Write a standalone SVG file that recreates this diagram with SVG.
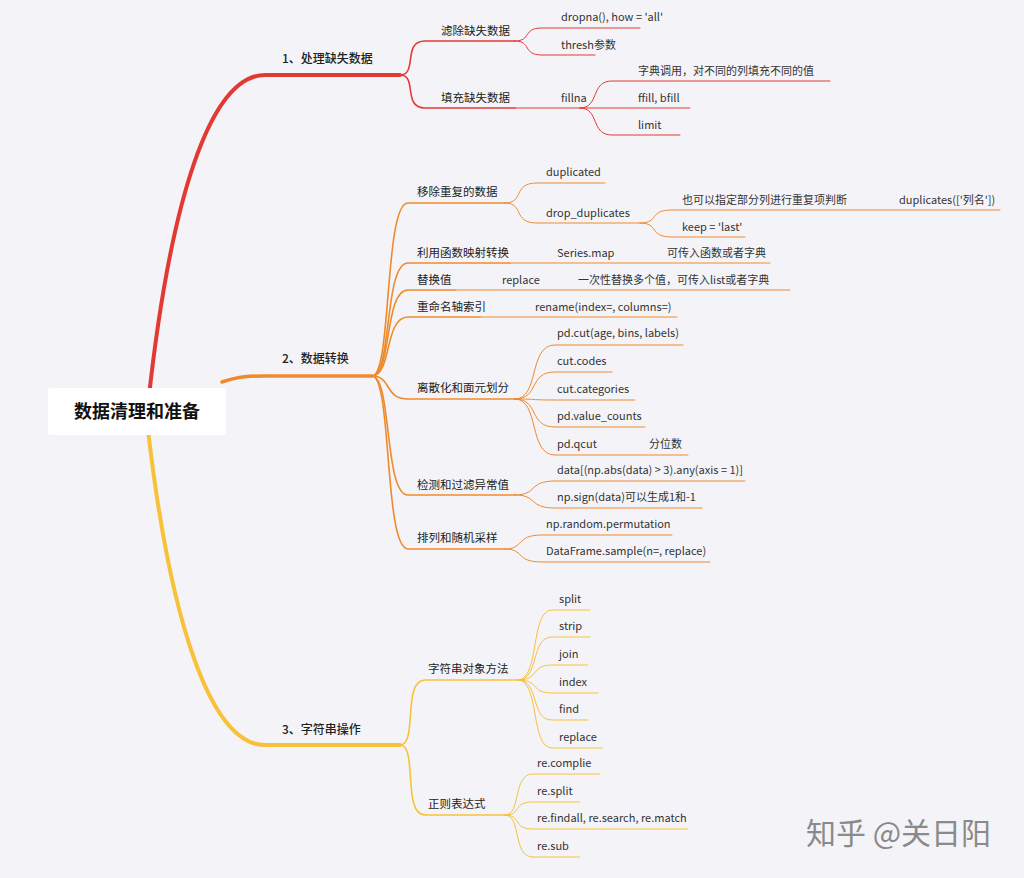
<svg xmlns="http://www.w3.org/2000/svg" width="1024" height="878" viewBox="0 0 1024 878">
<style>
text{font-family:"Noto Sans CJK SC","Noto Sans",sans-serif;font-size:11px;fill:#333}
.m{font-size:12px;font-weight:500;fill:#222}
.s{font-size:11.5px;fill:#222}
path{fill:none;stroke-linecap:round}
.r{stroke:#e23a33}.o{stroke:#ef8a2c}.y{stroke:#f7c13a}
.l1{stroke-width:1}.l2{stroke-width:1.6}
</style>
<rect width="1024" height="878" fill="#f4f4f8"/>
<g id="connectors">
<path class="r" stroke-width="4" d="M148 405 C170 200 210 75 265 75 H400"/>
<path class="o" stroke-width="3.5" d="M222 382 C240 376 250 376 265 376 H372"/>
<path class="y" stroke-width="4" d="M148 430 C170 620 210 745 265 745 H400"/>
<g class="r l2">
<path d="M400 75 C418 75 402 41 425 41 H515"/>
<path d="M400 75 C418 75 402 108 425 108 H515"/>
</g>
<g class="r l1">
<path d="M515 41 C532 41 522 28 542 28 H640"/>
<path d="M515 41 C532 41 522 55 542 55 H595"/>
<path d="M515 108 H580"/>
<path d="M580 108 C600 108 590 81 612 81 H830"/>
<path d="M580 108 H690"/>
<path d="M580 108 C600 108 590 135 612 135 H680"/>
</g>
<g class="o l2">
<path d="M372 376 C392 376 384 203 408 203 H505"/>
<path d="M372 376 C392 376 384 263 408 263 H510"/>
<path d="M372 376 C392 376 384 290 408 290 H455"/>
<path d="M372 376 C392 376 384 317 408 317 H480"/>
<path d="M372 376 C392 376 384 399 408 399 H515"/>
<path d="M372 376 C392 376 384 495 408 495 H515"/>
<path d="M372 376 C392 376 384 549 408 549 H505"/>
</g>
<g class="o l1">
<path d="M505 203 C525 203 512 183 537 183 H605"/>
<path d="M505 203 C525 203 512 223 537 223 H640"/>
<path d="M640 223 C660 223 648 210 672 210 H1000"/>
<path d="M640 223 C660 223 648 237 672 237 H745"/>
<path d="M510 263 H770"/>
<path d="M455 290 H790"/>
<path d="M480 317 H677"/>
<path d="M515 399 C540 399 528 345 555 345 H683"/>
<path d="M515 399 C540 399 528 372 555 372 H612"/>
<path d="M515 399 C540 399 528 400 555 400 H635"/>
<path d="M515 399 C540 399 528 427 555 427 H645"/>
<path d="M515 399 C540 399 528 455 555 455 H688"/>
<path d="M515 495 C538 495 528 481 555 481 H745"/>
<path d="M515 495 C538 495 528 508 555 508 H702"/>
<path d="M505 549 C525 549 515 535 542 535 H672"/>
<path d="M505 549 C525 549 515 562 542 562 H710"/>
</g>
<g class="y l2">
<path d="M400 745 C418 745 402 680 425 680 H518"/>
<path d="M400 745 C418 745 402 815 425 815 H505"/>
</g>
<g class="y l1">
<path d="M518 680 C540 680 530 610 552 610 H590"/>
<path d="M518 680 C540 680 530 637 552 637 H590"/>
<path d="M518 680 C540 680 530 665 552 665 H588"/>
<path d="M518 680 C540 680 530 693 552 693 H598"/>
<path d="M518 680 C540 680 530 720 552 720 H588"/>
<path d="M518 680 C540 680 530 748 552 748 H602"/>
<path d="M505 815 C522 815 512 774 533 774 H600"/>
<path d="M505 815 C522 815 512 802 533 802 H580"/>
<path d="M505 815 C522 815 512 829 533 829 H688"/>
<path d="M505 815 C522 815 512 857 533 857 H580"/>
</g>
</g>
<g id="root"><rect x="48" y="388" width="178" height="47" rx="3" fill="#fff"/><text x="137" y="418" text-anchor="middle" style="font-size:18px;font-weight:bold;fill:#111">数据清理和准备</text></g>
<g id="b1"><text class="m" x="282" y="63">1、处理缺失数据</text>
<text class="s" x="441" y="35">滤除缺失数据</text><text x="561" y="21">dropna(), how = 'all'</text><text x="561" y="49">thresh参数</text>
<text class="s" x="441" y="102">填充缺失数据</text><text x="561" y="102">fillna</text>
<text x="638" y="75">字典调用，对不同的列填充不同的值</text><text x="638" y="102">ffill, bfill</text><text x="638" y="129">limit</text></g>
<g id="b2"><text class="m" x="282" y="363">2、数据转换</text>
<text class="s" x="417" y="196">移除重复的数据</text><text x="546" y="176">duplicated</text><text x="546" y="217">drop_duplicates</text>
<text x="682" y="204">也可以指定部分列进行重复项判断</text><text x="899" y="204">duplicates(['列名'])</text><text x="682" y="231">keep = 'last'</text>
<text class="s" x="417" y="257">利用函数映射转换</text><text x="557" y="257">Series.map</text><text x="667" y="257">可传入函数或者字典</text>
<text class="s" x="417" y="284">替换值</text><text x="502" y="284">replace</text><text x="578" y="284">一次性替换多个值，可传入list或者字典</text>
<text class="s" x="417" y="311">重命名轴索引</text><text x="535" y="311">rename(index=, columns=)</text>
<text class="s" x="417" y="392">离散化和面元划分</text><text x="557" y="337">pd.cut(age, bins, labels)</text><text x="557" y="365">cut.codes</text><text x="557" y="393">cut.categories</text><text x="557" y="420">pd.value_counts</text><text x="557" y="448">pd.qcut</text><text x="649" y="448">分位数</text>
<text class="s" x="417" y="489">检测和过滤异常值</text><text x="557" y="474">data[(np.abs(data) &gt; 3).any(axis = 1)]</text><text x="557" y="501">np.sign(data)可以生成1和-1</text>
<text class="s" x="417" y="542">排列和随机采样</text><text x="546" y="528">np.random.permutation</text><text x="546" y="555">DataFrame.sample(n=, replace)</text></g>
<g id="b3"><text class="m" x="282" y="734">3、字符串操作</text>
<text class="s" x="428" y="673">字符串对象方法</text><text x="559" y="603">split</text><text x="559" y="630">strip</text><text x="559" y="658">join</text><text x="559" y="686">index</text><text x="559" y="713">find</text><text x="559" y="741">replace</text>
<text class="s" x="428" y="808">正则表达式</text><text x="537" y="767">re.complie</text><text x="537" y="795">re.split</text><text x="537" y="822">re.findall, re.search, re.match</text><text x="537" y="850">re.sub</text></g>
<text x="806" y="844" style="font-size:30px;fill:#8a8a8a">知乎 @关日阳</text>
</svg>
